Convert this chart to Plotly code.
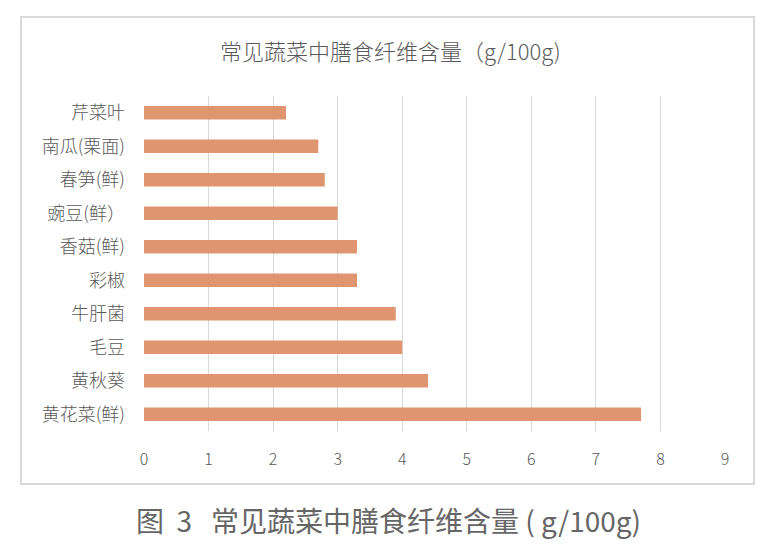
import plotly.graph_objects as go

categories = ["芹菜叶", "南瓜(栗面)", "春笋(鲜)", "豌豆(鲜）", "香菇(鲜)", "彩椒", "牛肝菌", "毛豆", "黄秋葵", "黄花菜(鲜)"]
values = [2.2, 2.7, 2.8, 3.0, 3.3, 3.3, 3.9, 4.0, 4.4, 7.7]
x_ticks = [0, 1, 2, 3, 4, 5, 6, 7, 8, 9]
title_text = "常见蔬菜中膳食纤维含量（g/100g)"
caption_text = "图&nbsp;&nbsp;3&nbsp;&nbsp;&nbsp;常见蔬菜中膳食纤维含量&nbsp;(&nbsp;g/100g)"

W, H = 773, 550
L, R, T, B = 144, 725, 96, 431
pw, ph = R - L, B - T

def px_x(p):
    return (p - L) / pw

def px_y(p):
    return (B - p) / ph

font_cjk = "Noto Sans CJK SC, Noto Sans, sans-serif"

fig = go.Figure(go.Bar(
    x=values, y=categories, orientation="h",
    marker=dict(color="#DF9670", line=dict(width=0)),
    width=0.4,
))

fig.update_layout(
    width=W, height=H,
    margin=dict(l=L, r=W - R, t=T, b=H - B, pad=0),
    paper_bgcolor="white", plot_bgcolor="white",
    showlegend=False,
    font=dict(family=font_cjk, color="#595959"),
    xaxis=dict(
        range=[0, 9], tickvals=x_ticks, showgrid=True, gridcolor="#d9d9d9", gridwidth=1,
        zeroline=False, showline=False, ticks="", tickfont=dict(size=16, color="#595959", weight=300),
        ticklabelstandoff=17, fixedrange=True,
    ),
    yaxis=dict(
        categoryorder="array", categoryarray=categories, autorange="reversed",
        showgrid=False, zeroline=False, showline=False, ticks="",
        tickfont=dict(size=18, color="#595959", weight=300), ticklabelstandoff=18,
    ),
    shapes=[dict(
        type="rect", xref="paper", yref="paper",
        x0=px_x(21), x1=px_x(754), y0=px_y(484), y1=px_y(17),
        line=dict(color="#d9d9d9", width=2), fillcolor="rgba(0,0,0,0)", layer="below",
    )],
    annotations=[
        dict(text=title_text, xref="paper", yref="paper", x=px_x(390), y=px_y(50),
             showarrow=False, xanchor="center", yanchor="middle",
             font=dict(size=22, color="#595959", family=font_cjk, weight=300)),
        dict(text=caption_text, xref="paper", yref="paper", x=px_x(388), y=px_y(520),
             showarrow=False, xanchor="center", yanchor="middle",
             font=dict(size=28, color="#666666", family=font_cjk, weight=400)),
    ],
)

fig.write_html("out.html")
